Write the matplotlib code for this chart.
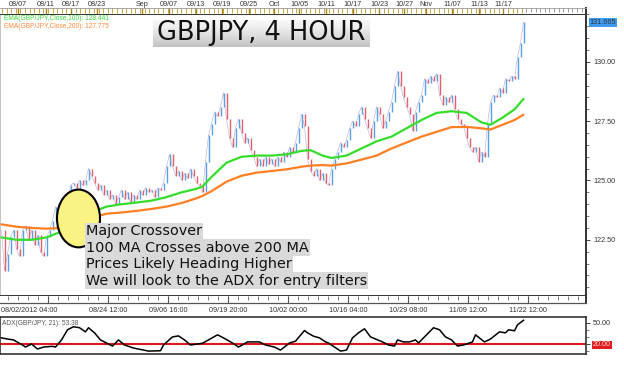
import matplotlib
matplotlib.use("Agg")
import matplotlib.pyplot as plt
import numpy as np
from matplotlib.patches import Ellipse
from matplotlib.ticker import MultipleLocator

# ---------------- data ----------------
# closing prices, one value per plotted bar (each plotted bar ~ 2.75 real 4h bars)
closes = [
    122.9, 121.2, 121.9, 122.6, 122.9, 122.1, 121.8, 122.9, 123.1, 122.5,
    122.9, 122.3, 122.7, 122.0, 121.8, 122.6, 122.9, 123.3, 123.9, 123.7,
    124.0, 123.8, 124.2, 124.8, 124.9, 124.7, 125.0, 124.8, 125.0, 125.5,
    125.2, 124.9, 124.6, 124.8, 124.4, 124.6, 124.2, 124.4, 124.0, 124.3,
    124.6, 124.2, 124.5, 124.1, 124.4, 124.2, 124.6, 124.4, 124.7, 124.5,
    124.6, 124.3, 124.7, 124.6, 124.9, 125.6, 126.1, 125.6, 125.2, 125.4,
    125.0, 125.3, 125.1, 125.5, 125.2, 124.9, 124.8, 124.5, 125.8, 126.9,
    127.4, 127.9, 127.7, 128.1, 128.7, 127.6, 126.8, 126.4, 127.2, 127.6,
    127.0, 126.6, 126.8, 126.3, 126.0, 125.6, 125.9, 125.6, 126.0, 125.7,
    125.9, 125.6, 126.0, 125.8, 126.2, 126.0, 126.4, 126.2, 126.6, 127.2,
    127.8, 127.3, 125.9, 125.4, 125.2, 125.5, 125.0, 125.3, 124.9, 124.8,
    125.5, 125.9, 126.2, 126.6, 126.4, 126.7, 127.2, 127.5, 127.3, 127.8,
    128.1, 127.6, 127.2, 126.8, 127.5, 128.1, 127.8, 127.2, 127.5, 127.9,
    128.3, 129.0, 129.6, 129.0, 128.5, 128.1, 127.8, 127.1, 127.9, 128.3,
    128.6, 129.3, 129.1, 129.4, 129.2, 129.5, 128.6, 128.2, 128.5, 128.3,
    128.6, 128.0, 127.6, 127.4, 127.3, 126.8, 126.4, 126.2, 126.4, 125.8,
    126.2, 126.0, 127.4, 128.3, 128.6, 128.5, 128.9, 128.7, 129.3, 129.2,
    129.4, 129.3, 130.2, 130.8, 131.665,
]

ema_bar = [0, 5, 10, 15, 20, 25, 30, 35, 40, 45, 50, 55, 60, 65, 67, 70, 75, 80,
           85, 90, 95, 100, 103, 107, 110, 115, 120, 125, 130, 135, 140, 145, 150,
           155, 160, 163, 167, 171, 174]
ema100 = [122.6, 122.5, 122.5, 122.6, 122.85, 123.3, 123.65, 123.9, 124.0, 124.07,
          124.15, 124.3, 124.5, 124.65, 124.75, 125.15, 125.75, 126.0, 126.05, 126.05,
          126.1, 126.25, 126.28, 126.05, 125.95, 126.05, 126.35, 126.65, 126.85, 127.2,
          127.55, 127.85, 127.92, 127.85, 127.45, 127.35, 127.65, 128.0, 128.441]
ema200 = [123.15, 123.05, 123.0, 122.97, 123.0, 123.2, 123.42, 123.6, 123.65, 123.72,
          123.8, 123.9, 124.05, 124.25, 124.35, 124.55, 124.95, 125.2, 125.33, 125.4,
          125.47, 125.58, 125.63, 125.65, 125.63, 125.72, 125.88, 126.05, 126.35, 126.6,
          126.85, 127.05, 127.25, 127.26, 127.2, 127.15, 127.35, 127.55, 127.775]

adx_bar = [0, 2, 4, 7, 8, 10, 12, 14, 17, 18, 20, 22, 24, 26, 28, 29, 31, 33, 37, 39,
           41, 44, 49, 53, 54, 57, 59, 61, 63, 67, 69, 72, 74, 77, 79, 82, 86, 88, 91,
           93, 96, 98, 101, 102, 104, 106, 108, 109, 113, 115, 117, 119, 121, 123, 127,
           129, 131, 132, 134, 136, 138, 139, 141, 144, 146, 148, 150, 152, 154, 157,
           158, 161, 163, 166, 168, 169, 171, 172, 174]
adx = [28.6, 27, 25.7, 18.6, 15.7, 20, 12.9, 15.7, 16.7, 15.7, 25.7, 40, 44.3, 42.9,
       37.1, 42.9, 35.7, 25.7, 17.1, 25.7, 18.6, 14.3, 10, 10.5, 18.6, 30, 31.4, 25.7,
       18.6, 21, 25.7, 32.9, 28.6, 21.4, 15.7, 22.9, 22.9, 18.6, 15.7, 11.4, 21.4, 24,
       39, 35.7, 31, 28.6, 22.9, 21.4, 10, 11.4, 28.6, 35.7, 41.4, 30, 22.9, 18.6, 17.1,
       25.7, 22.9, 22.9, 25.7, 21.4, 30, 42.9, 40, 30, 25.7, 17.1, 18.6, 22.9, 32.9, 22.9,
       27, 37.1, 35.7, 40, 38.6, 47, 53.38]

price_ticks = [122.5, 125.0, 127.5, 130.0]
adx_ticks = [20, 50]
bottom_labels = ["08/02/2012 04:00", "08/24 12:00", "09/06 16:00", "09/19 20:00",
                 "10/02 00:00", "10/16 04:00", "10/29 08:00", "11/09 12:00", "11/22 12:00"]
top_labels = ["08/07", "08/11", "08/17", "08/23", "Sep", "09/07", "09/13", "09/19",
              "09/25", "Oct", "10/05", "10/11", "10/17", "10/23", "10/27", "Nov",
              "11/07", "11/13", "11/17"]
title = "GBPJPY, 4 HOUR"
notes = ["Major Crossover", "100 MA Crosses above 200 MA",
         "Prices Likely Heading Higher", "We will look to the ADX for entry filters"]

# ---------------- layout helpers ----------------
W, H = 624, 370
PX = 3.0                      # pixels per plotted bar
XMIN, XMAX = -0.5, 586 / PX - 0.5
def rect(x0, y0, x1, y1):
    return [x0 / W, 1 - y1 / H, (x1 - x0) / W, (y1 - y0) / H]
def px2x(p):
    return p / PX - 0.5

TICKFONT = dict(family="Liberation Sans", size=5.2, color="#333333")
BLUE, RED = "#5b9fe3", "#e2606a"
GREEN, ORANGE = "#35dd2a", "#ff7f22"

fig = plt.figure(figsize=(6.24, 3.70), dpi=100)
fig.patch.set_facecolor("white")

# ---------------- price panel ----------------
ax = fig.add_axes(rect(0, 14, 586, 296))
opens = [closes[0]] + closes[:-1]
up_x, up_lo, up_hi, dn_x, dn_lo, dn_hi = [], [], [], [], [], []
for i, (o, c) in enumerate(zip(opens, closes)):
    if c >= o:
        up_x.append(i); up_lo.append(o); up_hi.append(c)
    else:
        dn_x.append(i); dn_lo.append(c); dn_hi.append(o)
ax.vlines(up_x, up_lo, up_hi, colors=BLUE, lw=1.0, zorder=2)
ax.vlines(dn_x, dn_lo, dn_hi, colors=RED, lw=1.0, zorder=2)
ax.plot(range(len(closes)), closes, color="#9a88c8", lw=0.5, alpha=0.6, zorder=1)
ax.plot(ema_bar, ema100, color=GREEN, lw=1.6, zorder=3, solid_capstyle="round")
ax.plot(ema_bar, ema200, color=ORANGE, lw=1.6, zorder=3, solid_capstyle="round")

ax.set_xlim(XMIN, XMAX)
ax.set_ylim(120.13, 132.02)
ax.set_xticks([])
ax.yaxis.tick_right()
ax.set_yticks(price_ticks)
ax.set_yticklabels([f"{v:.2f}" for v in price_ticks], fontdict=TICKFONT)
ax.yaxis.set_minor_locator(MultipleLocator(0.5))
ax.tick_params(axis="y", which="major", length=3, width=0.7, color="#444", pad=2)
ax.tick_params(axis="y", which="minor", length=2, width=0.6, color="#666")
for s in ["top", "bottom", "right"]:
    ax.spines[s].set_color("#333333")
    ax.spines[s].set_linewidth(1.4)
ax.spines["left"].set_color("#bbbbbb")
ax.spines["left"].set_linewidth(0.6)

# last price flag
ax.text(1.006, closes[-1], f"{closes[-1]:.3f}", transform=ax.get_yaxis_transform(),
        va="center", ha="left", fontdict=TICKFONT,
        bbox=dict(facecolor="#3d9bf0", edgecolor="none", pad=0.6))

# crossover ellipse
ax.add_patch(Ellipse((px2x(78.5), 123.40), 43 / PX, 58 / 23.8,
                     facecolor="#fbf284", edgecolor="black", lw=1.5, zorder=6))

# ---------------- date strip under the price panel ----------------
axd = fig.add_axes(rect(0, 296, 586, 303))
axd.set_xlim(XMIN, XMAX); axd.set_ylim(0, 1)
axd.set_xticks([]); axd.set_yticks([])
for s in ["top", "left"]:
    axd.spines[s].set_visible(False)
axd.spines["bottom"].set_color("#555555"); axd.spines["bottom"].set_linewidth(0.9)
axd.spines["right"].set_color("#333333"); axd.spines["right"].set_linewidth(1.4)
tr = axd.get_xaxis_transform()
minor_px = list(range(8, 586, 10))
major_px = list(range(48, 586, 60))
axd.vlines([px2x(p) for p in minor_px], 0.5, 1, colors="#666666", lw=0.6, transform=tr)
axd.vlines([px2x(p) for p in major_px], 0.0, 1, colors="#555555", lw=0.8, transform=tr)
fig.text(1 / W, 1 - 310 / H, bottom_labels[0], ha="left", va="center", fontdict=TICKFONT)
for lab, p in zip(bottom_labels[1:], major_px[1:]):
    fig.text(p / W, 1 - 310 / H, lab, ha="center", va="center", fontdict=TICKFONT)

# ---------------- date strip on top ----------------
axt = fig.add_axes(rect(0, 8, 586, 14))
axt.set_xlim(XMIN, XMAX); axt.set_ylim(0, 1)
axt.set_xticks([]); axt.set_yticks([])
for s in ["bottom", "left"]:
    axt.spines[s].set_visible(False)
axt.spines["top"].set_color("#999999"); axt.spines["top"].set_linewidth(0.6)
axt.spines["right"].set_color("#333333"); axt.spines["right"].set_linewidth(1.4)
trt = axt.get_xaxis_transform()
top_px = [18, 46, 71, 97, 142, 169, 196, 222, 249, 274, 299, 326, 353, 379, 404,
          426, 452, 479, 503]
step = 4.6
p = 2.0
ylw, gry = [], []
while p < 584:
    (ylw if p < 522 else gry).append(px2x(p))
    p += step
axt.vlines(ylw, 0.25, 1, colors="#c9a43a", lw=0.7, transform=trt)
axt.vlines(gry, 0.35, 1, colors="#8a8a8a", lw=0.6, transform=trt)
axt.vlines([px2x(q) for q in top_px], 0.0, 1, colors="#a88414", lw=1.0, transform=trt)
for lab, q in zip(top_labels, top_px):
    fig.text(q / W, 1 - 4.5 / H, lab, ha="center", va="center", fontdict=TICKFONT)

# ---------------- ADX panel ----------------
axa = fig.add_axes(rect(0, 317, 586, 354))
axa.plot(adx_bar, adx, color="black", lw=1.1, zorder=3)
axa.axhline(20, color="#e3141c", lw=1.5, zorder=2)
axa.set_xlim(XMIN, XMAX)
axa.set_ylim(5.9, 58.0)
axa.set_xticks([])
axa.yaxis.tick_right()
axa.set_yticks(adx_ticks)
axa.set_yticklabels([f"{v:.2f}" for v in adx_ticks], fontdict=TICKFONT)
axa.yaxis.set_minor_locator(MultipleLocator(10))
axa.tick_params(axis="y", which="major", length=3, width=0.7, color="#444", pad=2)
axa.tick_params(axis="y", which="minor", length=2, width=0.6, color="#666")
for s in axa.spines.values():
    s.set_color("#333333"); s.set_linewidth(1.2)
lab20 = axa.get_yticklabels()[0]
lab20.set_bbox(dict(facecolor="#e01e1e", edgecolor="none", pad=0.5))
lab20.set_color("#f4d0d0")
axa.text(0.004, 0.93, f"ADX(GBP/JPY, 21): {adx[-1]:.2f}", transform=axa.transAxes,
         ha="left", va="top", family="Liberation Sans", size=4.8, color="#555555")

# ---------------- legend texts ----------------
fig.text(4 / W, 1 - 18 / H, f"EMA(GBP/JPY,Close,100): {ema100[-1]:.3f}",
         ha="left", va="center", family="Liberation Sans", size=4.8, color="#3ad83a")
fig.text(4 / W, 1 - 26 / H, f"EMA(GBP/JPY,Close,200): {ema200[-1]:.3f}",
         ha="left", va="center", family="Liberation Sans", size=4.8, color="#ff8a3a")

# ---------------- title with gradient box ----------------
axg = fig.add_axes(rect(153, 20, 370, 47), zorder=5)
grad = np.linspace(0, 1, 64).reshape(-1, 1)
axg.imshow(grad, aspect="auto", cmap="Greys", vmin=-0.2, vmax=3.2,
           extent=(0, 1, 0, 1), origin="upper")
axg.set_axis_off()
axg.text(0.5, 0.5, title, ha="center", va="center", transform=axg.transAxes,
         family="DejaVu Sans", size=18.5, color="#111111")

# ---------------- annotation lines ----------------
for k, line in enumerate(notes):
    fig.text(86 / W, 1 - (231 + 16.5 * k) / H, line, ha="left", va="center",
             family="DejaVu Sans", size=10.4, color="#111111",
             bbox=dict(facecolor="#d9d9d9", edgecolor="none", pad=0.8))

fig.savefig("out.png", dpi=100)
